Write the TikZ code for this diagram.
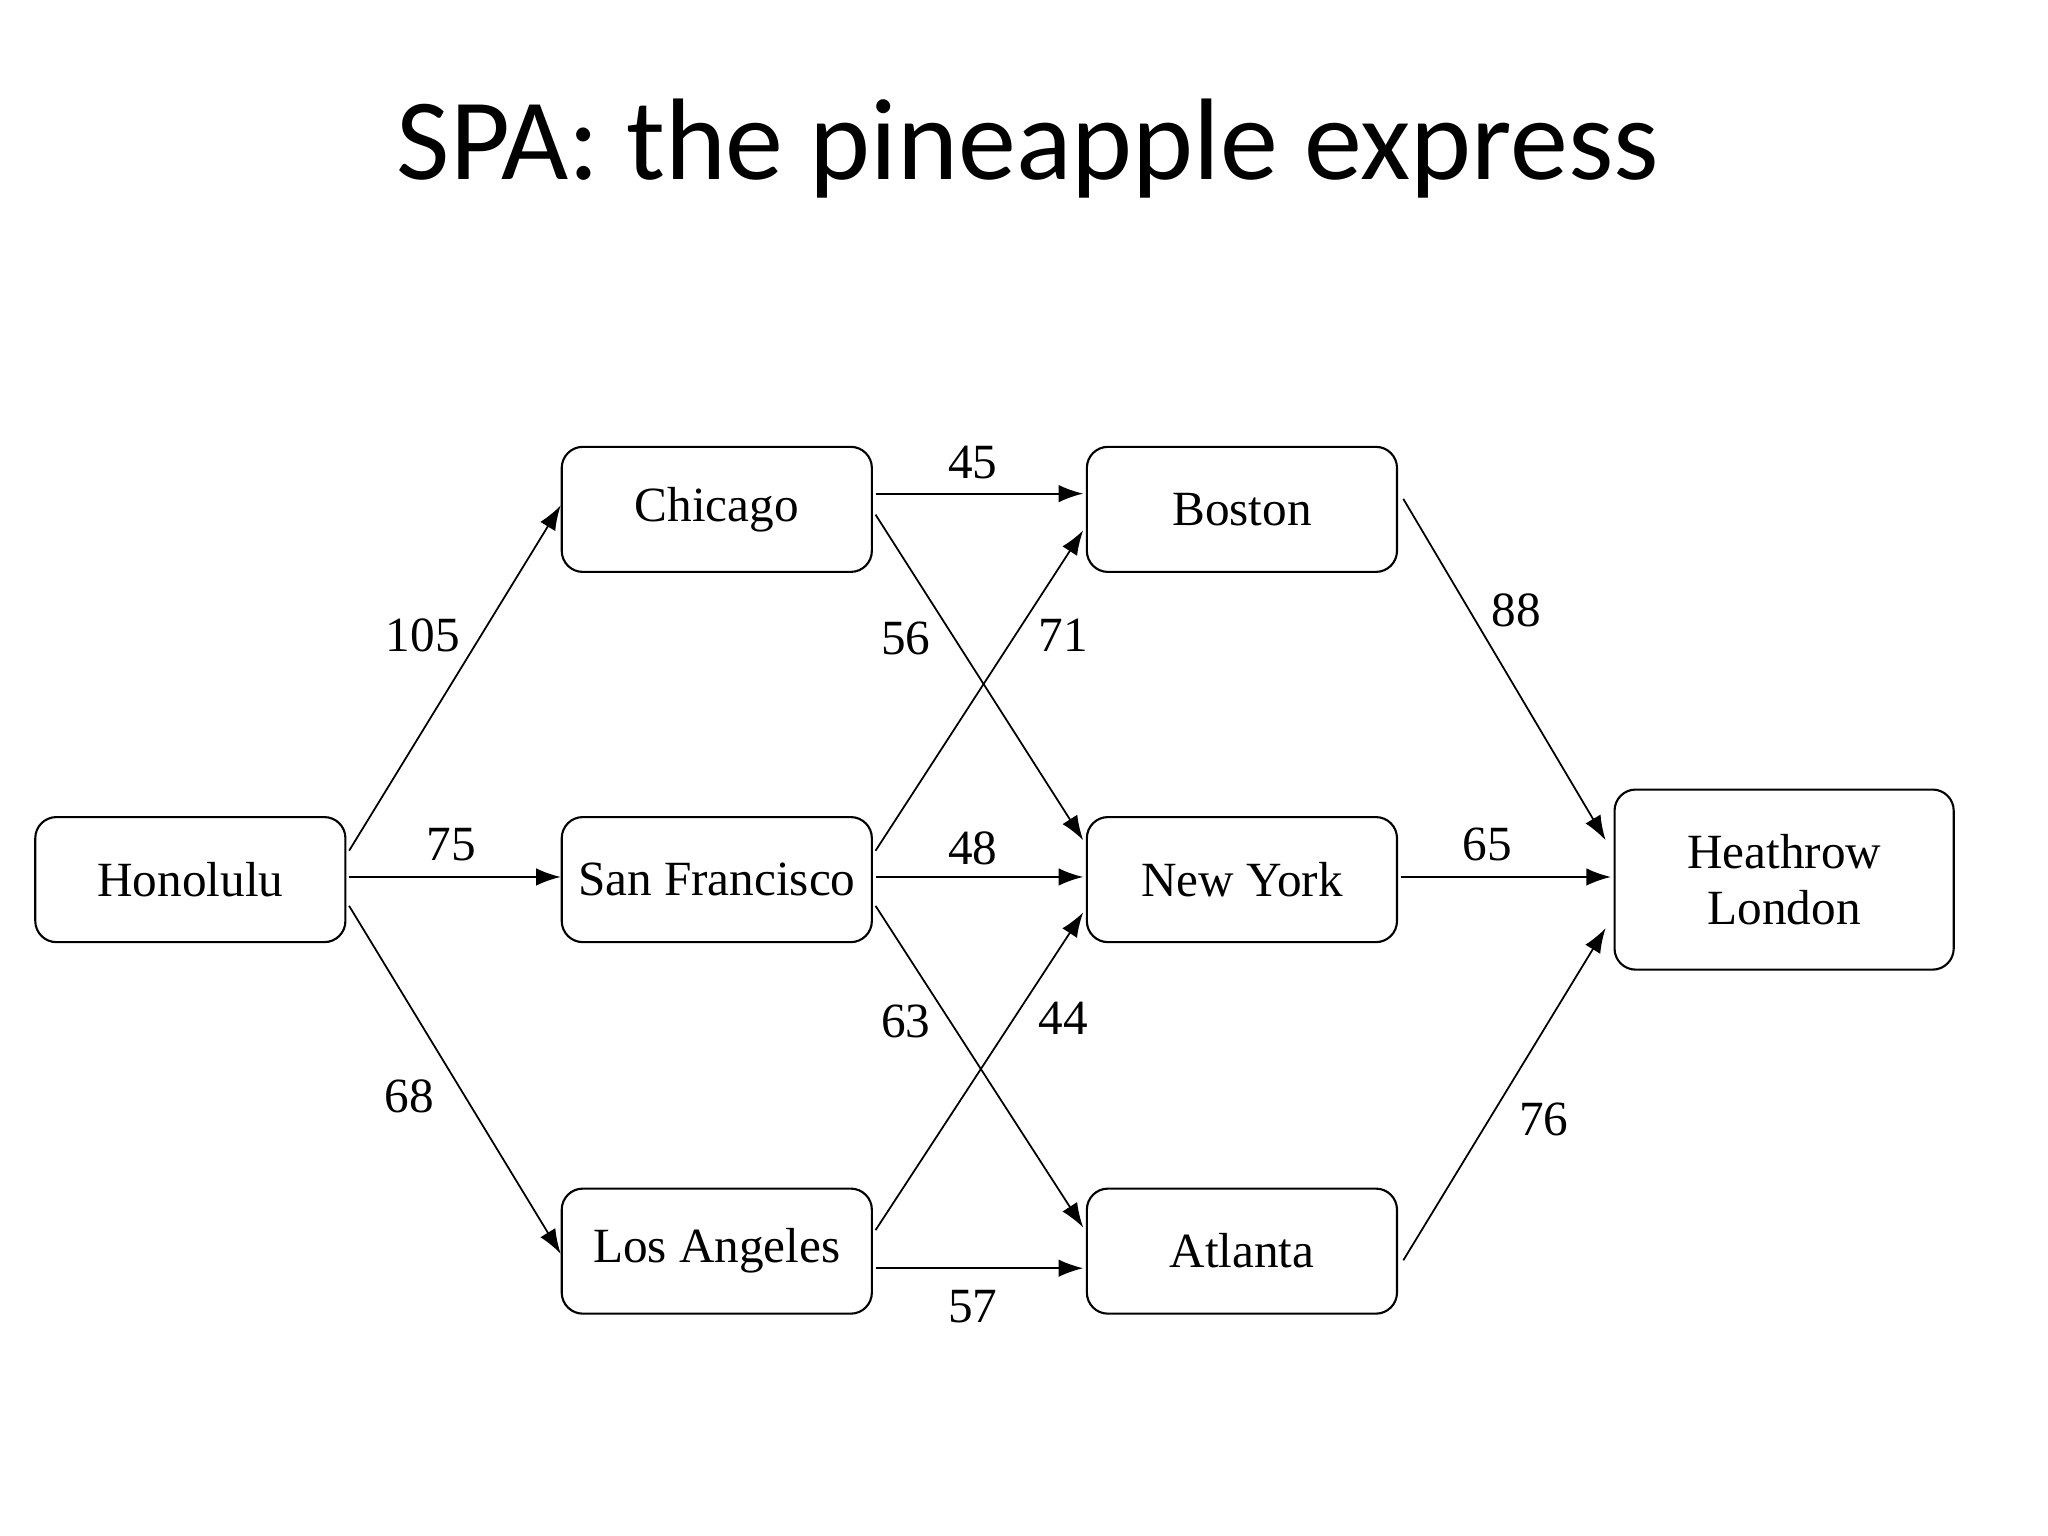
\documentclass[tikz,border=0pt]{standalone}
\usepackage{fontspec}
\setmainfont{Liberation Serif}
\newfontfamily\titlefont{Carlito}
\usetikzlibrary{arrows.meta,calc}
\begin{document}
\begin{tikzpicture}[x=0.01313cm,y=-0.01313cm,
  city/.style={draw,rounded corners=6pt,minimum width=3.1cm,minimum height=1.25cm,font=\fontsize{14}{16}\selectfont,align=center,line width=0.6pt},
  edge/.style={-{Latex[length=7pt,width=5pt]},line width=0.5pt},
  lbl/.style={font=\fontsize{14}{16}\selectfont}]
\useasboundingbox (0,0) rectangle (1560,1170);
\node[font=\titlefont\fontsize{33}{38}\selectfont] (title) at (783,113) {SPA: the pineapple express};
\node[city] (hon) at (145,670) {Honolulu};
\node[city] (chi) at (546,388) {Chicago};
\node[city] (sf) at (546,670) {San Francisco};
\node[city] (la) at (546,953) {Los Angeles};
\node[city] (bos) at (946,388) {Boston};
\node[city] (ny) at (946,670) {New York};
\node[city] (atl) at (946,953) {Atlanta};
\node[city,minimum width=3.39cm,minimum height=1.8cm] (lhr) at (1359,670) {Heathrow\\London};
\draw[edge] ($(hon.east)+(2,-22)$) -- ($(chi.west)+(0,-3)$);
\draw[edge] ($(hon.east)+(2,-2)$) -- ($(sf.west)+(0,-2)$);
\draw[edge] ($(hon.east)+(2,20)$) -- ($(la.west)+(0,2)$);
\draw[edge] ($(chi.east)+(2,-12)$) -- ($(bos.west)+(-2,-12)$);
\draw[edge] ($(chi.east)+(2,4)$) -- ($(ny.west)+(-2,-30)$);
\draw[edge] ($(sf.east)+(2,-22)$) -- ($(bos.west)+(-2,16)$);
\draw[edge] ($(sf.east)+(2,-2)$) -- ($(ny.west)+(-2,-2)$);
\draw[edge] ($(sf.east)+(2,20)$) -- ($(atl.west)+(-2,-18)$);
\draw[edge] ($(la.east)+(2,-16)$) -- ($(ny.west)+(-2,25)$);
\draw[edge] ($(la.east)+(2,13)$) -- ($(atl.west)+(-2,13)$);
\draw[edge] ($(bos.east)+(4,-8)$) -- ($(lhr.west)+(-6,-30)$);
\draw[edge] ($(ny.east)+(2,-2)$) -- ($(lhr.west)+(-2,-2)$);
\draw[edge] ($(atl.east)+(4,7)$) -- ($(lhr.west)+(-6,37)$);
\node[lbl] (l1) at (741,352) {45};
\node[lbl] (l2) at (322,484) {105};
\node[lbl] (l3) at (690,486) {56};
\node[lbl] (l4) at (810,484) {71};
\node[lbl] (l5) at (344,643) {75};
\node[lbl] (l6) at (741,646) {48};
\node[lbl] (l7) at (1133,643) {65};
\node[lbl] (l8) at (1155,465) {88};
\node[lbl] (l9) at (690,778) {63};
\node[lbl] (l10) at (810,776) {44};
\node[lbl] (l11) at (312,835) {68};
\node[lbl] (l12) at (1176,853) {76};
\node[lbl] (l13) at (741,995) {57};
\end{tikzpicture}
\end{document}
